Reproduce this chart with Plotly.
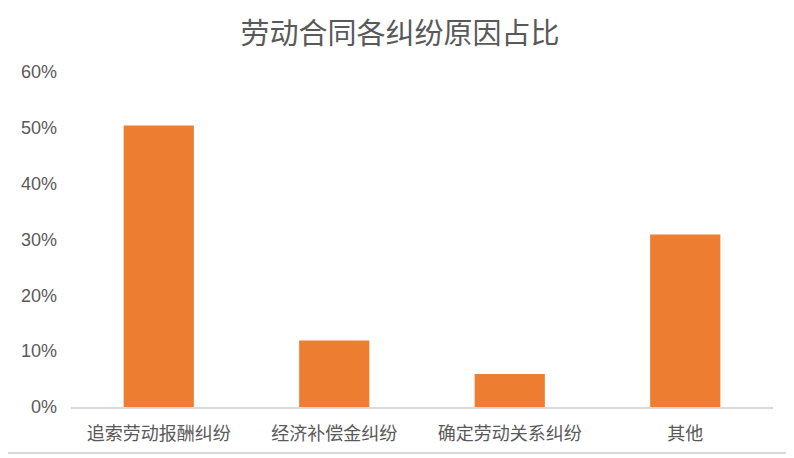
import plotly.graph_objects as go

# data
categories = ["追索劳动报酬纠纷", "经济补偿金纠纷", "确定劳动关系纠纷", "其他"]
shares = [0.504, 0.119, 0.059, 0.309]
y_ticks = [0, 0.1, 0.2, 0.3, 0.4, 0.5, 0.6]
y_tick_labels = ["0%", "10%", "20%", "30%", "40%", "50%", "60%"]
chart_title = "劳动合同各纠纷原因占比"

# the page body has an 8px margin, so the figure is a little smaller
W, H = 786, 450
M = dict(l=63, r=21, t=64, b=51)
FONT = "Liberation Sans, Noto Sans CJK SC, sans-serif"
GREY = "#595959"
BORDER = "#d9d9d9"

fig = go.Figure(go.Bar(
    x=categories,
    y=shares,
    marker=dict(color="#ED7D31", line=dict(width=0)),
    width=0.4,
    hoverinfo="x+y",
))

fig.update_layout(
    width=W,
    height=H,
    margin=M,
    paper_bgcolor="white",
    plot_bgcolor="white",
    showlegend=False,
    font=dict(family=FONT, color=GREY, size=18),
    title=dict(
        text=chart_title,
        x=(400 - 8) / W,
        xref="container",
        xanchor="center",
        y=1 - (33.5 - 8) / H,
        yanchor="middle",
        font=dict(family="Noto Sans CJK SC, sans-serif", size=29, color=GREY),
    ),
)

fig.update_xaxes(
    showline=True,
    linecolor=BORDER,
    linewidth=1.5,
    showgrid=False,
    ticks="",
    tickfont=dict(size=18, color=GREY),
    ticklabelstandoff=10,
)
fig.update_yaxes(
    range=[0, 0.6],
    tickvals=y_ticks,
    ticktext=y_tick_labels,
    showgrid=False,
    zeroline=False,
    showline=False,
    ticks="",
    tickfont=dict(size=18, color=GREY),
    ticklabelstandoff=13,
)

# chart-area border on the right and bottom edges
pw = W - M["l"] - M["r"]
ph = H - M["t"] - M["b"]
base = H - M["b"]
x_right = (784 - M["l"]) / pw
y_bottom = -(445 - base) / ph
fig.add_shape(type="line", xref="paper", yref="paper", x0=x_right, x1=x_right,
              y0=y_bottom, y1=base / ph, line=dict(color=BORDER, width=2))
fig.add_shape(type="line", xref="paper", yref="paper", x0=-M["l"] / pw, x1=x_right,
              y0=y_bottom, y1=y_bottom, line=dict(color=BORDER, width=2))

fig.write_html("out.html")
